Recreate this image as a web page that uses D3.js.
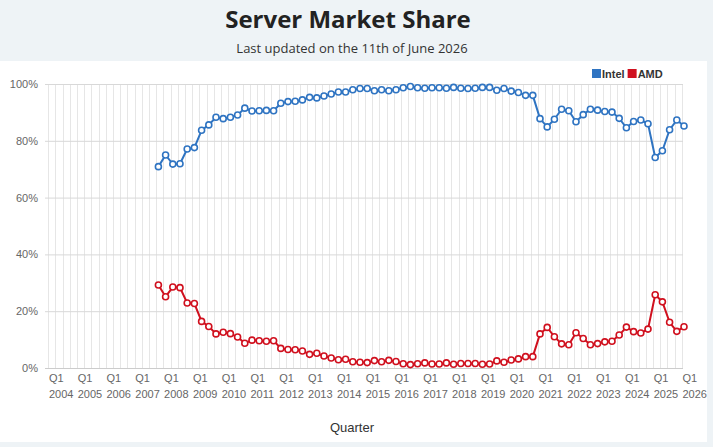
<!DOCTYPE html>
<html>
<head>
<meta charset="utf-8">
<script src="https://cdn.jsdelivr.net/npm/d3@7/dist/d3.min.js"></script>
<style>
  body { margin: 0; background: #eef3f6; }
  svg { display: block; }
</style>
</head>
<body>
<svg id="chart" width="713" height="447"></svg>
<script>
const years = [2004, 2005, 2006, 2007, 2008, 2009, 2010, 2011, 2012, 2013, 2014, 2015,
  2016, 2017, 2018, 2019, 2020, 2021, 2022, 2023, 2024, 2025, 2026];
const quarters = ['Q1', 'Q2', 'Q3', 'Q4'];
const firstQuarter = 'Q4 2007'; // first quarter with data
const lastQuarter = 'Q1 2026';

// market share, percent per quarter from Q4 2007
const intel = [
  70.9, 75.0, 71.8, 71.9, 77.1, 77.6, 83.7, 85.6, 88.3, 87.8,
  88.3, 89.1, 91.5, 90.5, 90.6, 90.7, 90.6, 93.2, 93.8, 93.9,
  94.4, 95.3, 95.1, 95.8, 96.5, 97.2, 97.2, 98.0, 98.4, 98.4,
  97.6, 98.0, 97.6, 98.0, 98.7, 99.1, 98.7, 98.5, 98.7, 98.7,
  98.5, 98.8, 98.5, 98.4, 98.5, 98.8, 98.8, 97.8, 98.4, 97.5,
  97.0, 96.0, 96.0, 87.8, 84.9, 87.6, 91.1, 90.6, 86.7, 89.2,
  91.1, 90.8, 90.3, 90.1, 87.9, 84.6, 86.8, 87.3, 86.0, 74.1,
  76.5, 83.9, 87.3, 85.2
];
const amd = [
  29.2, 25.1, 28.5, 28.3, 22.9, 22.7, 16.4, 14.6, 12.0, 12.6,
  12.1, 10.9, 8.7, 9.8, 9.6, 9.4, 9.6, 6.9, 6.5, 6.4,
  6.0, 4.8, 5.2, 4.2, 3.5, 2.9, 3.1, 2.2, 2.0, 1.9,
  2.6, 2.2, 2.7, 2.3, 1.5, 1.2, 1.5, 1.8, 1.4, 1.4,
  1.8, 1.3, 1.6, 1.6, 1.6, 1.3, 1.4, 2.5, 2.0, 2.8,
  3.2, 4.0, 4.0, 12.0, 14.3, 11.0, 8.5, 8.2, 12.4, 10.4,
  8.2, 8.6, 9.2, 9.4, 11.6, 14.4, 12.8, 12.3, 13.7, 25.8,
  23.3, 16.1, 12.9, 14.5
];
const yTicks = [0, 20, 40, 60, 80, 100];

const allQuarters = years.flatMap(y => quarters.map(q => `${q} ${y}`));
const categories = allQuarters.slice(0, allQuarters.indexOf(lastQuarter) + 1);
const start = categories.indexOf(firstQuarter);

const series = [
  { name: 'Intel', color: '#2f74c2', values: intel },
  { name: 'AMD', color: '#d0101e', values: amd }
];

const plot = { left: 45, right: 683, top: 84, bottom: 368 };
const svg = d3.select('#chart');

// white chart panel under the header
svg.append('rect')
  .attr('x', 0).attr('y', 61)
  .attr('width', 707).attr('height', 381)
  .attr('fill', '#fff');

svg.append('text')
  .attr('x', 348).attr('y', 28)
  .attr('text-anchor', 'middle')
  .style('font', '700 24px "Open Sans"')
  .attr('fill', '#222')
  .text('Server Market Share');

svg.append('text')
  .attr('x', 352).attr('y', 53)
  .attr('text-anchor', 'middle')
  .style('font', '13px "Open Sans"')
  .attr('fill', '#333')
  .text('Last updated on the 11th of June 2026');

const x = d3.scaleLinear()
  .domain([0, categories.length - 1])
  .range([50.4, 684]);

const y = d3.scaleLinear()
  .domain([0, 100])
  .range([plot.bottom, plot.top]);

// vertical grid, one line per quarter
svg.append('g')
  .selectAll('line')
  .data(categories)
  .join('line')
  .attr('x1', (d, i) => Math.round(x(i) - 2.2) + 0.5)
  .attr('x2', (d, i) => Math.round(x(i) - 2.2) + 0.5)
  .attr('y1', plot.top)
  .attr('y2', plot.bottom)
  .attr('stroke', '#e6e6e6');

// y axis with horizontal grid
const yAxis = svg.append('g')
  .attr('transform', `translate(${plot.left},0)`)
  .call(d3.axisLeft(y)
    .tickValues(yTicks)
    .tickFormat(d => d + '%')
    .tickSize(-(plot.right - plot.left))
    .tickPadding(7));
yAxis.select('.domain').remove();
yAxis.selectAll('line').attr('stroke', '#d8d8d8');
yAxis.selectAll('text')
  .attr('fill', '#666')
  .style('font', '11px "Liberation Sans", Arial, sans-serif');

// x axis labels every fourth quarter, two lines
const xAxis = svg.append('g')
  .attr('transform', `translate(0,${plot.bottom})`)
  .call(d3.axisBottom(x)
    .tickValues(categories.map((d, i) => i).filter(i => categories[i].startsWith('Q1')))
    .tickSize(0)
    .tickFormat(''));
xAxis.select('.domain')
  .attr('d', `M${plot.left},0.5H${plot.right}`)
  .attr('stroke', '#ccc');
xAxis.selectAll('.tick').each(function (i) {
  const [q, yr] = categories[i].split(' ');
  const t = d3.select(this).select('text')
    .attr('text-anchor', 'start')
    .attr('x', -2)
    .attr('y', 0)
    .attr('dy', null)
    .attr('fill', '#666')
    .style('font', '11px "Liberation Sans", Arial, sans-serif');
  t.append('tspan').attr('x', -2).attr('y', 14).text(q);
  t.append('tspan').attr('x', -2).attr('y', 30).text(yr);
});

svg.append('text')
  .attr('x', 352).attr('y', 432)
  .attr('text-anchor', 'middle')
  .style('font', '13px "Liberation Sans", Arial, sans-serif')
  .attr('fill', '#333')
  .text('Quarter');

const line = d3.line()
  .x((d, i) => x(start + i))
  .y(d => y(d));

const seriesG = svg.append('g')
  .selectAll('g')
  .data(series)
  .join('g');

seriesG.append('path')
  .attr('d', d => line(d.values))
  .attr('fill', 'none')
  .attr('stroke', d => d.color)
  .attr('stroke-width', 2)
  .attr('stroke-linejoin', 'round');

seriesG.each(function (s) {
  d3.select(this).selectAll('circle')
    .data(s.values)
    .join('circle')
    .attr('cx', (d, i) => x(start + i))
    .attr('cy', d => y(d))
    .attr('r', 3)
    .attr('fill', '#fff')
    .attr('stroke', s.color)
    .attr('stroke-width', 1.6);
});

// legend, top right
const legend = svg.append('g')
  .attr('transform', 'translate(592,69)');
let lx = 0;
series.forEach(s => {
  legend.append('rect')
    .attr('x', lx).attr('y', 0)
    .attr('width', 9).attr('height', 9)
    .attr('fill', s.color);
  const t = legend.append('text')
    .attr('x', lx + 10).attr('y', 8.5)
    .style('font', '700 11px "Liberation Sans", Arial, sans-serif')
    .attr('fill', '#333')
    .text(s.name);
  lx += 10 + t.node().getComputedTextLength() + 3;
});
</script>
</body>
</html>
